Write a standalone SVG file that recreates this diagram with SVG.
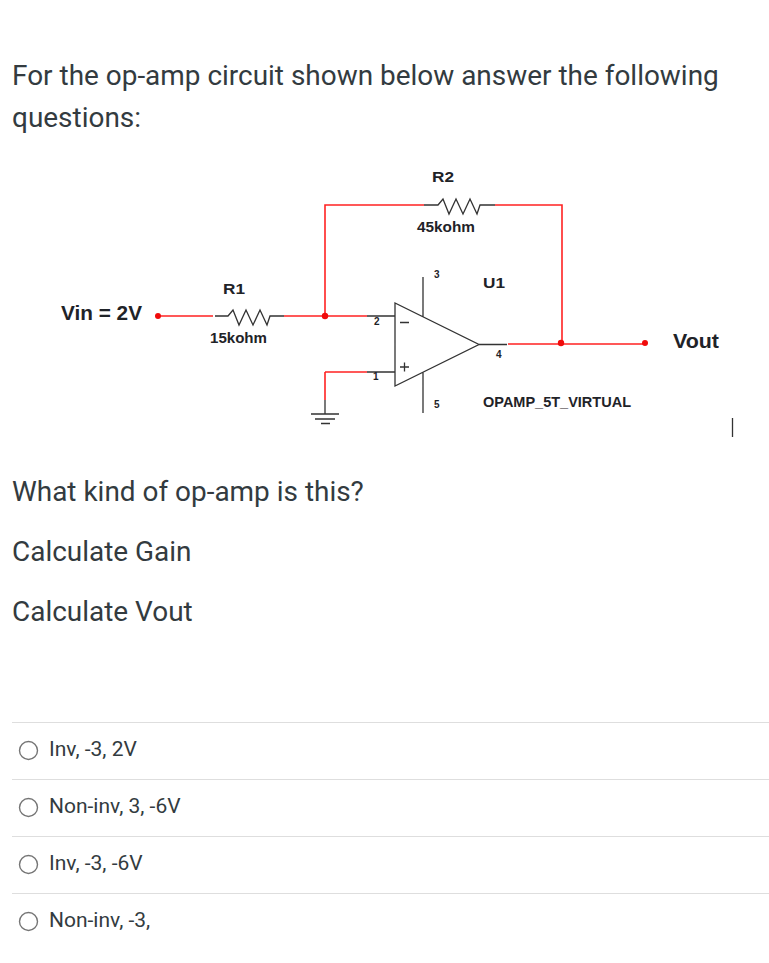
<svg xmlns="http://www.w3.org/2000/svg" width="769" height="963" viewBox="0 0 769 963">
<style>
.q{font-family:Roboto,"Liberation Sans",sans-serif;font-size:27.950px;fill:#333b40}
.o{font-family:Roboto,"Liberation Sans",sans-serif;font-size:21px;fill:#333b40}
.l{font-family:"Liberation Sans",Arial,sans-serif;font-weight:bold;fill:#1f2328}
.s{font-size:15px}.v{font-size:19.500px}.p{font-size:10px}
.w{fill:none;stroke:#f22;stroke-width:1.6}
.b{fill:none;stroke:#333;stroke-width:1.3}
.d{fill:#f00b0b}
.r{fill:#fff;stroke:#757575;stroke-width:1.4}
.h{stroke:#dedede;stroke-width:1}
</style>
<rect width="769" height="963" fill="#fff"/>
<text class="q" x="12" y="85">For the op-amp circuit shown below answer the following</text>
<text class="q" x="12" y="127">questions:</text>
<g id="connectors">
<path class="w" d="M158 316H213M284 316H367M325 316V205H424M495 205H562V344M508 344H647M325 372H367M325 372V400"/>
<circle class="d" cx="158" cy="316" r="3"/>
<circle class="d" cx="325" cy="316" r="3.200"/>
<circle class="d" cx="561" cy="343" r="3.200"/>
<circle class="d" cx="645" cy="343" r="3"/>
</g>
<g id="vin"><text class="l v" x="61" y="320" textLength="81" lengthAdjust="spacingAndGlyphs">Vin = 2V</text></g>
<g id="r1">
<path class="b" d="M215 316H228L233 310L239 325L246 310L253 325L260 310L267 325L270 316H284"/>
<text class="l s" x="223" y="294" textLength="22" lengthAdjust="spacingAndGlyphs">R1</text>
<text class="l s" x="210" y="343" textLength="57" lengthAdjust="spacingAndGlyphs">15kohm</text>
</g>
<g id="r2">
<path class="b" d="M424 205H438L443 199L449 214L456 199L463 214L470 199L477 214L480 205H495"/>
<text class="l s" x="432" y="182" textLength="22" lengthAdjust="spacingAndGlyphs">R2</text>
<text class="l s" x="417" y="232" textLength="58" lengthAdjust="spacingAndGlyphs">45kohm</text>
</g>
<g id="ground">
<path class="b" d="M325 400V414M311 414H339M315 419H335M321 423.500H330"/>
</g>
<g id="u1">
<path class="b" d="M395 303V386L479 344.500ZM367 316H395M367 372H395M479 344.500H507M423 277V317M423 372V413"/>
<path class="b" d="M400 322.500H409M400 367H409M404.500 362.500V371.500"/>
<text class="l p" x="374" y="325">2</text>
<text class="l p" x="373" y="380">1</text>
<text class="l p" x="434" y="278">3</text>
<text class="l p" x="496" y="358">4</text>
<text class="l p" x="434" y="408">5</text>
<text class="l s" x="483" y="288" textLength="22" lengthAdjust="spacingAndGlyphs">U1</text>
<text class="l s" x="483" y="407" textLength="148" lengthAdjust="spacingAndGlyphs">OPAMP_5T_VIRTUAL</text>
</g>
<g id="vout"><text class="l v" x="673" y="348" textLength="46" lengthAdjust="spacingAndGlyphs">Vout</text></g>
<path d="M732.500 418V437" stroke="#333" stroke-width="1.300"/>
<text class="q" x="12" y="501">What kind of op-amp is this?</text>
<text class="q" x="12" y="561">Calculate Gain</text>
<text class="q" x="12" y="621">Calculate Vout</text>
<g id="options">
<path class="h" d="M12 722.500H769M12 779.500H769M12 836.500H769M12 893.500H769"/>
<circle class="r" cx="28.500" cy="750.500" r="9"/>
<circle class="r" cx="28.500" cy="807.500" r="9"/>
<circle class="r" cx="28.500" cy="864.500" r="9"/>
<circle class="r" cx="28.500" cy="921.500" r="9"/>
<text class="o" x="49" y="756">Inv, -3, 2V</text>
<text class="o" x="49" y="813">Non-inv, 3, -6V</text>
<text class="o" x="49" y="870">Inv, -3, -6V</text>
<text class="o" x="49" y="927">Non-inv, -3,</text>
</g>
</svg>
